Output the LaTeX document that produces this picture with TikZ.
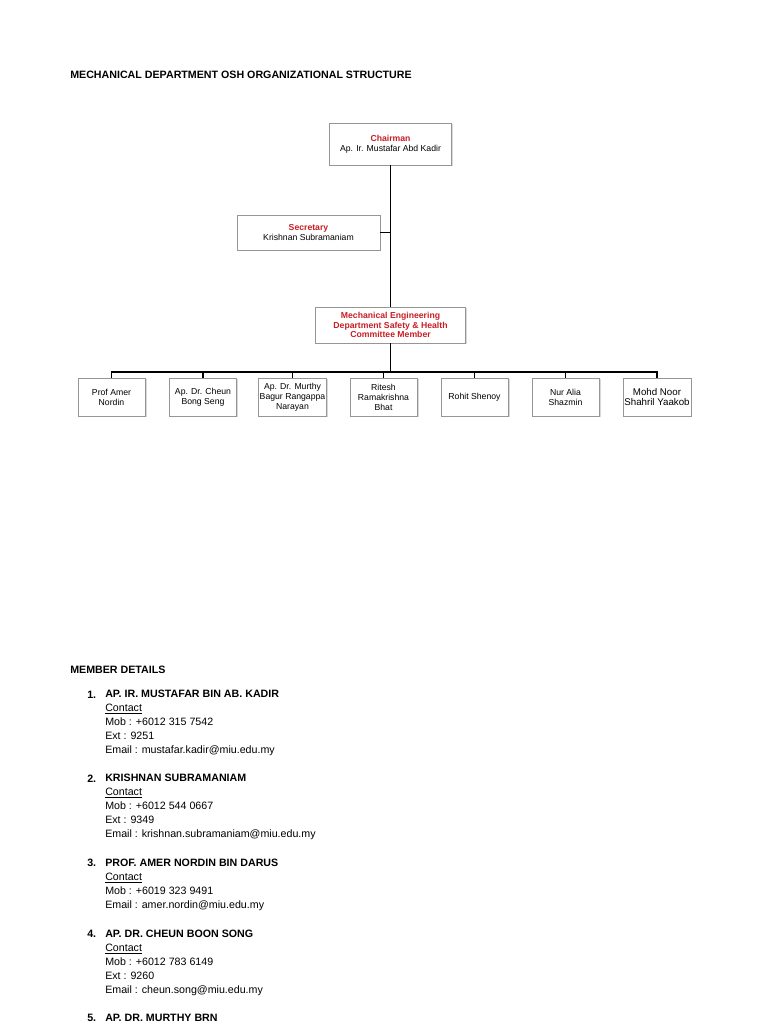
\documentclass[tikz,border=0pt]{standalone}
\usepackage{fontspec}
\setmainfont{Liberation Sans}
\usepackage{tikz}
\usetikzlibrary{positioning,shadows,calc}
\definecolor{chairred}{RGB}{200,30,36}
\definecolor{boxgray}{RGB}{150,150,150}

\tikzset{
	orgbox/.style={draw=boxgray, fill=white, line width=0.5pt, align=center, inner xsep=1pt, inner ysep=1pt,
		drop shadow={shadow xshift=1.1pt, shadow yshift=-1.1pt, fill=black!30}},
	memberbox/.style={orgbox, minimum width=50.5pt, minimum height=28.5pt, font=\fontsize{6.5}{7.5}\selectfont},
	orgline/.style={line width=1.4pt, black},
	detail/.style={anchor=base west, align=left, inner sep=0pt, font=\fontsize{8}{10.5}\selectfont},
	rolename/.style={text=chairred, font=\bfseries}
}

\begin{document}
\begin{tikzpicture}[x=0.75pt,y=-0.75pt]
		\useasboundingbox (0,0) rectangle (768,1024);
		
		\node[detail] (title) at (70,79) {\textbf{MECHANICAL DEPARTMENT OSH ORGANIZATIONAL STRUCTURE}};
		
		% top of the chart
		\node[orgbox, minimum width=91.5pt, minimum height=31.5pt, font=\fontsize{6.5}{7.5}\selectfont] (chair) at (390.5,144) {{\color{chairred}\bfseries Chairman}\\Ap. Ir. Mustafar Abd Kadir};
		\node[orgbox, minimum width=107pt, minimum height=26pt, font=\fontsize{6.5}{7.5}\selectfont] (secr) at (308.5,232.5) {{\color{chairred}\bfseries Secretary}\\Krishnan Subramaniam};
		\node[orgbox, minimum width=112.5pt, minimum height=27pt, text=chairred, font=\fontsize{6.5}{7.1}\selectfont\bfseries] (comm) at (390.5,325) {Mechanical Engineering\\Department Safety \& Health\\Committee Member};
		
		% committee members
		\node[memberbox] (m1) at (111.5,397) {Prof Amer\\Nordin};
		\node[memberbox] (m2) at (203,397) {Ap. Dr. Cheun\\Bong Seng};
		\node[memberbox] (m3) at (292.5,397) {Ap. Dr. Murthy\\Bagur Rangappa\\Narayan};
		\node[memberbox] (m4) at (383.5,397) {Ritesh\\Ramakrishna\\Bhat};
		\node[memberbox] (m5) at (474.5,397) {Rohit Shenoy};
		\node[memberbox] (m6) at (565.5,397) {Nur Alia\\Shazmin};
		\node[memberbox, font=\fontsize{7.3}{8.2}\selectfont] (m7) at (657,397) {Mohd Noor\\Shahril Yaakob};
		
		\coordinate (bus) at (390.5,372);
		
		\draw[orgline] (chair.south) -- (comm.north);
		\draw[orgline] (secr.east) -- (secr.east -| chair.south);
		\draw[orgline] (comm.south) -- (bus);
		\draw[orgline] (m1.north) |- (bus);
		\draw[orgline] (m2.north) |- (bus);
		\draw[orgline] (m3.north) |- (bus);
		\draw[orgline] (m4.north) |- (bus);
		\draw[orgline] (m5.north) |- (bus);
		\draw[orgline] (m6.north) |- (bus);
		\draw[orgline] (m7.north) |- (bus);
		
		% member details (base = last line)
		\node[detail] (details) at (70,673) {\textbf{MEMBER DETAILS}};
		
		\node[detail] (n1) at (87,698) {\textbf{1.}};
		\node[detail] (d1) at (105,753) {\textbf{AP. IR. MUSTAFAR BIN AB. KADIR}\\\underline{Contact}\\Mob : +6012 315 7542\\Ext : 9251\\Email : mustafar.kadir@miu.edu.my};
		
		\node[detail] (n2) at (87,782) {\textbf{2.}};
		\node[detail] (d2) at (105,837) {\textbf{KRISHNAN SUBRAMANIAM}\\\underline{Contact}\\Mob : +6012 544 0667\\Ext : 9349\\Email : krishnan.subramaniam@miu.edu.my};
		
		\node[detail] (n3) at (87,866) {\textbf{3.}};
		\node[detail] (d3) at (105,908) {\textbf{PROF. AMER NORDIN BIN DARUS}\\\underline{Contact}\\Mob : +6019 323 9491\\Email : amer.nordin@miu.edu.my};
		
		\node[detail] (n4) at (87,937) {\textbf{4.}};
		\node[detail] (d4) at (105,993) {\textbf{AP. DR. CHEUN BOON SONG}\\\underline{Contact}\\Mob : +6012 783 6149\\Ext : 9260\\Email : cheun.song@miu.edu.my};
		
		\node[detail] (n5) at (87,1021) {\textbf{5.}};
		\node[detail] (d5) at (105,1021) {\textbf{AP. DR. MURTHY BRN}};
		
\end{tikzpicture}
\end{document}
